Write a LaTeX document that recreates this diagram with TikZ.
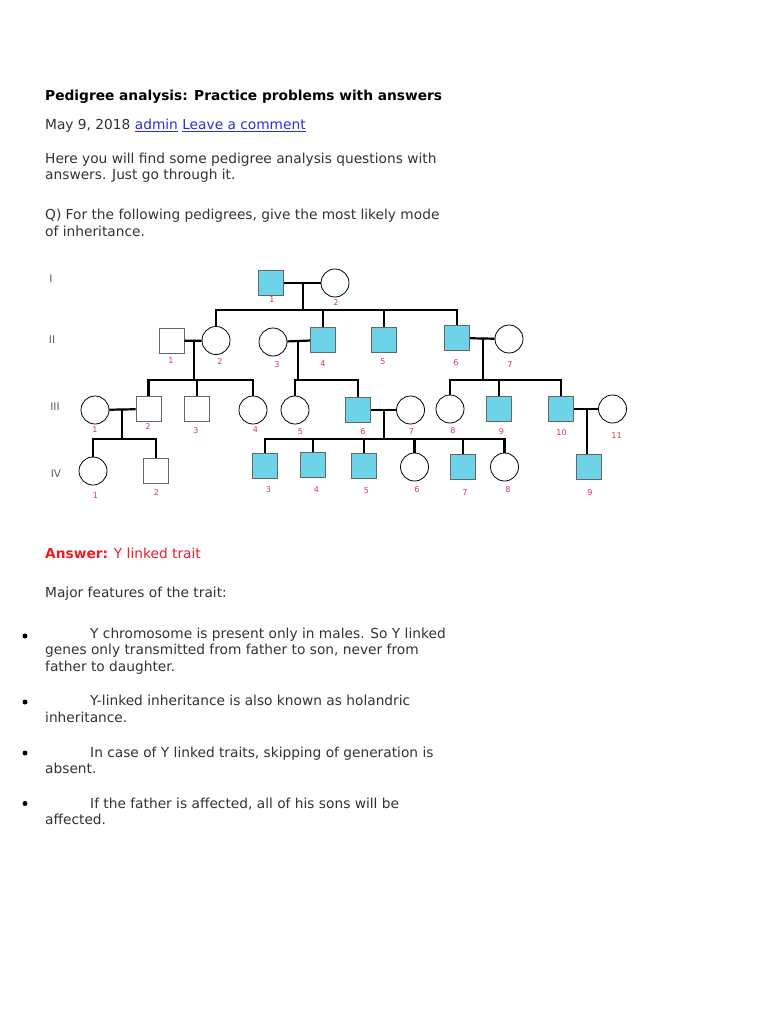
\documentclass[tikz,border=0pt]{standalone}
\usepackage{xcolor}
\usepackage{tikz}
\usepackage{fontspec}
\setmainfont{DejaVu Sans}
\usetikzlibrary{positioning, calc}
\definecolor{affectedcyan}{HTML}{6DD3E8}
\definecolor{symbolgray}{HTML}{666666}
\definecolor{numred}{HTML}{E0354A}
\definecolor{answerred}{HTML}{EE1C24}
\definecolor{linkblue}{HTML}{2E2EDB}
\definecolor{bodytext}{HTML}{333333}
\tikzstyle{male} = [rectangle, draw=symbolgray, minimum size=25pt, inner sep=0pt, line width=0.8pt]
\tikzstyle{affmale} = [male, fill=affectedcyan]
\tikzstyle{female} = [circle, draw=black, minimum size=28pt, inner sep=0pt, line width=0.8pt]
\tikzstyle{kin} = [line width=2.2pt, black]
\tikzstyle{num} = [text=numred, font=\fontsize{8}{8}\selectfont, inner sep=0pt]
\tikzstyle{gen} = [text=bodytext!80, font=\fontsize{10.5}{10.5}\selectfont, inner sep=0pt]
\tikzstyle{para} = [anchor=base west, align=left, inner sep=0pt, text=bodytext, font=\fontsize{13.75}{16.5}\selectfont]
\tikzstyle{bulletdot} = [circle, fill=black, minimum size=5pt, inner sep=0pt]

\begin{document}
\begin{tikzpicture}[x=1pt, y=-1pt]
    \useasboundingbox[fill=white] (0,0) rectangle (768,1024);

    % Heading and question (multi-line texts sit on their last baseline)
    \node[para, text=black, font=\fontsize{13.75}{16.5}\selectfont\bfseries] (title) at (45,100.5) {Pedigree analysis: Practice problems with answers};
    \node[para] (date) at (45,129.5) {May 9, 2018 \textcolor{linkblue}{\underline{admin}} \textcolor{linkblue}{\underline{Leave a comment}}};
    \node[para] (intro) at (45,180) {Here you will find some pedigree analysis questions with\\answers. Just go through it.};
    \node[para] (question) at (45,236.5) {Q) For the following pedigrees, give the most likely mode\\of inheritance.};

    % Generation labels
    \node[gen] (gI) at (51,279) {I};
    \node[gen] (gII) at (52,340) {II};
    \node[gen] (gIII) at (55,407) {III};
    \node[gen] (gIV) at (56,474) {IV};

    % Generation I
    \node[affmale] (i1) at (271,283) {};
    \node[female] (i2) at (335,283) {};

    % Generation II
    \node[male] (ii1) at (171.5,341) {};
    \node[female] (ii2) at (216,340.5) {};
    \node[female] (ii3) at (273,342) {};
    \node[affmale] (ii4) at (323,340) {};
    \node[affmale] (ii5) at (384,340) {};
    \node[affmale] (ii6) at (457,338) {};
    \node[female] (ii7) at (509,339) {};

    % Generation III
    \node[female] (iii1) at (95,410) {};
    \node[male] (iii2) at (148.5,409) {};
    \node[male] (iii3) at (197,409) {};
    \node[female] (iii4) at (253,410) {};
    \node[female] (iii5) at (295,410) {};
    \node[affmale] (iii6) at (358,410) {};
    \node[female] (iii7) at (410.5,410) {};
    \node[female] (iii8) at (450,409) {};
    \node[affmale] (iii9) at (499,409) {};
    \node[affmale] (iii10) at (561,409) {};
    \node[female] (iii11) at (612.5,409) {};

    % Generation IV
    \node[female] (iv1) at (93,471) {};
    \node[male] (iv2) at (156,470.5) {};
    \node[affmale] (iv3) at (265,466) {};
    \node[affmale] (iv4) at (313,465) {};
    \node[affmale] (iv5) at (364,466) {};
    \node[female] (iv6) at (414.5,467) {};
    \node[affmale] (iv7) at (463,467) {};
    \node[female] (iv8) at (504.5,467) {};
    \node[affmale] (iv9) at (589,467) {};

    % Numbers
    \node[num] (n-i1) at (272,300) {1};
    \node[num] (n-i2) at (336,302.5) {2};
    \node[num] (n-ii1) at (171,361) {1};
    \node[num] (n-ii2) at (220,362) {2};
    \node[num] (n-ii3) at (277,365) {3};
    \node[num] (n-ii4) at (323,363.5) {4};
    \node[num] (n-ii5) at (383,362) {5};
    \node[num] (n-ii6) at (456,362.5) {6};
    \node[num] (n-ii7) at (510,365) {7};
    \node[num] (n-iii1) at (95,430) {1};
    \node[num] (n-iii2) at (148,427) {2};
    \node[num] (n-iii3) at (196,431) {3};
    \node[num] (n-iii4) at (255.5,430) {4};
    \node[num] (n-iii5) at (300.5,431.5) {5};
    \node[num] (n-iii6) at (363,432) {6};
    \node[num] (n-iii7) at (411.5,432) {7};
    \node[num] (n-iii8) at (453,430.5) {8};
    \node[num] (n-iii9) at (501.5,431.5) {9};
    \node[num] (n-iii10) at (561.5,433) {10};
    \node[num] (n-iii11) at (616.5,435.5) {11};
    \node[num] (n-iv1) at (95.5,496) {1};
    \node[num] (n-iv2) at (156.5,493) {2};
    \node[num] (n-iv3) at (268.5,490) {3};
    \node[num] (n-iv4) at (316.5,490) {4};
    \node[num] (n-iv5) at (366.5,490.5) {5};
    \node[num] (n-iv6) at (417,490) {6};
    \node[num] (n-iv7) at (465,493) {7};
    \node[num] (n-iv8) at (508,490) {8};
    \node[num] (n-iv9) at (590,492.5) {9};

    % Matings
    \draw[kin] (i1) -- (i2);
    \draw[kin] (ii1) -- (ii2);
    \draw[kin] (ii3) -- (ii4);
    \draw[kin] (ii6) -- (ii7);
    \draw[kin] (iii1) -- (iii2);
    \draw[kin] (iii6) -- (iii7);
    \draw[kin] (iii10) -- (iii11);
    \coordinate (m1) at ($(i1)!0.5!(i2)$);
    \coordinate (m2) at ($(ii1)!0.5!(ii2)$);
    \coordinate (m3) at ($(ii3)!0.5!(ii4)$);
    \coordinate (m4) at ($(ii6)!0.5!(ii7)$);
    \coordinate (m5) at ($(iii1)!0.5!(iii2)$);
    \coordinate (m6) at ($(iii6)!0.5!(iii7)$);
    \coordinate (m7) at ($(iii10)!0.5!(iii11)$);

    % Sibships
    \coordinate (s1) at (0,310);
    \coordinate (s2) at (0,380);
    \coordinate (s3) at (0,439);
    \draw[kin] (m1) -- (m1 |- s1);
    \draw[kin] (ii2.north) |- (ii6.north |- s1) -- (ii6.north);
    \draw[kin] (ii4.north) -- (ii4.north |- s1);
    \draw[kin] (ii5.north) -- (ii5.north |- s1);

    \draw[kin] (m2) -- (m2 |- s2);
    \draw[kin] (iii2.north) |- (iii4.north |- s2) -- (iii4.north);
    \draw[kin] (iii3.north) -- (iii3.north |- s2);

    \draw[kin] (m3) -- (m3 |- s2);
    \draw[kin] (iii5.north) |- (iii6.north |- s2) -- (iii6.north);

    \draw[kin] (m4) -- (m4 |- s2);
    \draw[kin] (iii8.north) |- (iii10.north |- s2) -- (iii10.north);
    \draw[kin] (iii9.north) -- (iii9.north |- s2);

    \draw[kin] (m5) -- (m5 |- s3);
    \draw[kin] (iv1.north) |- (iv2.north |- s3) -- (iv2.north);

    \draw[kin] (m6) -- (m6 |- s3);
    \draw[kin] (iv3.north) |- (iv8.north |- s3) -- (iv8.north);
    \foreach \c in {iv4, iv5, iv6, iv7}
        \draw[kin] (\c.north) -- (\c.north |- s3);

    \draw[kin] (m7) -- (m7 |- iv9.north);

    % Answer
    \node[para, text=answerred] (answer) at (45,558.5) {\textbf{Answer:} Y linked trait};
    \node[para] (major) at (45,597.5) {Major features of the trait:};

    \node[bulletdot] (b1) at (25,636) {};
    \node[para] (f1) at (45,671) {\hspace*{45pt}Y chromosome is present only in males. So Y linked\\genes only transmitted from father to son, never from\\father to daughter.};
    \node[bulletdot] (b2) at (25,702) {};
    \node[para] (f2) at (45,722) {\hspace*{45pt}Y-linked inheritance is also known as holandric\\inheritance.};
    \node[bulletdot] (b3) at (25,753) {};
    \node[para] (f3) at (45,773.5) {\hspace*{45pt}In case of Y linked traits, skipping of generation is\\absent.};
    \node[bulletdot] (b4) at (25,803.5) {};
    \node[para] (f4) at (45,824.5) {\hspace*{45pt}If the father is affected, all of his sons will be\\affected.};
\end{tikzpicture}
\end{document}
